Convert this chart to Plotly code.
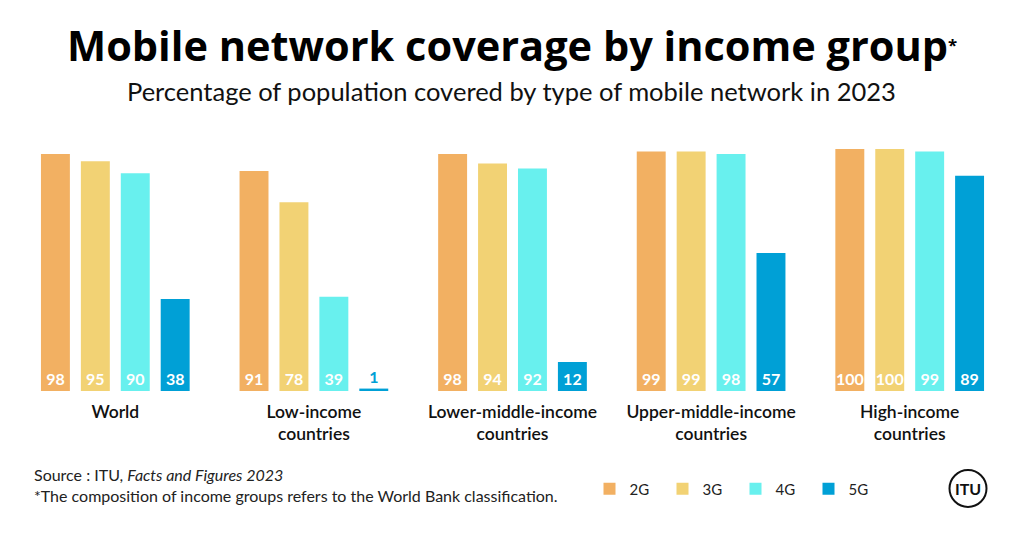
import plotly.graph_objects as go

groups = ["World", "Low-income<br>countries", "Lower-middle-income<br>countries",
          "Upper-middle-income<br>countries", "High-income<br>countries"]
series = ["2G", "3G", "4G", "5G"]
v2g = [98, 91, 98, 99, 100]
v3g = [95, 78, 94, 99, 100]
v4g = [90, 39, 92, 98, 99]
v5g = [38, 1, 12, 57, 89]
colors = ["#F2B062", "#F2D274", "#68F0EE", "#00A0D6"]

FONT = "Lato"
fig = go.Figure()
for name, vals, col in zip(series, [v2g, v3g, v4g, v5g], colors):
    pos = ["inside" if v >= 5 else "outside" for v in vals]
    fig.add_trace(go.Bar(
        x=groups, y=vals, name=name, marker=dict(color=col, line=dict(width=0)),
        text=[str(v) for v in vals], textposition=pos, insidetextanchor="start",
        textangle=0, cliponaxis=False,
        insidetextfont=dict(color="white", size=16, family=FONT, weight="bold"),
        outsidetextfont=dict(color=col, size=16, family=FONT, weight="bold"),
    ))

fig.update_layout(
    width=1024, height=536, paper_bgcolor="white", plot_bgcolor="white",
    margin=dict(l=16, r=15, t=130, b=145, autoexpand=False),
    barmode="group", bargap=0.196, bargroupgap=0.275,
    font=dict(family=FONT, color="#111111"),
    uniformtext=dict(minsize=16, mode="show"),
    xaxis=dict(showgrid=False, zeroline=False, showline=False, ticks="",
               tickfont=dict(size=17.5, family=FONT, color="#111111", weight=600),
               ticklabelstandoff=8),
    yaxis=dict(range=[0, 107.9], visible=False),
    legend=dict(orientation="h", x=(590 - 16.5) / 993, y=(391 - 489) / 261,
                xanchor="left", yanchor="middle",
                entrywidth=28, font=dict(size=15, family=FONT, color="#222222"),
                traceorder="normal"),
    showlegend=True,
)

fig.add_annotation(text="Mobile network coverage by income group<span style='font-size:24px'><sup>*</sup></span>",
                   xref="paper", yref="paper", x=(512 - 16.5) / 993, y=(391 - 45) / 261,
                   xanchor="center", yanchor="middle", showarrow=False,
                   font=dict(size=41.5, family="Open Sans", color="#000000", weight="bold"))
fig.add_annotation(text="Percentage of population covered by type of mobile network in 2023",
                   xref="paper", yref="paper", x=(512 - 16.5) / 993, y=(391 - 91) / 261,
                   xanchor="center", yanchor="middle", showarrow=False,
                   font=dict(size=25.5, family=FONT, color="#111111"))
fig.add_annotation(text="Source : ITU, <i>Facts and Figures 2023</i><br>*The composition of income groups refers to the World Bank classification.",
                   xref="paper", yref="paper", x=(32 - 16.5) / 993, y=(391 - 485) / 261,
                   xanchor="left", yanchor="middle",
                   align="left", showarrow=False,
                   font=dict(size=16, family=FONT, color="#222222"))
# ITU logo
fig.add_shape(type="circle", xref="paper", yref="paper",
              x0=(950 - 16.5) / 993, x1=(987 - 16.5) / 993,
              y0=(391 - 507) / 261, y1=(391 - 470) / 261,
              line=dict(color="#111111", width=2))
fig.add_annotation(text="<b>ITU</b>", xref="paper", yref="paper",
                   x=(968.5 - 16.5) / 993, y=(391 - 488) / 261,
                   xanchor="center", yanchor="middle", showarrow=False,
                   font=dict(size=16, family=FONT, color="#111111"))

fig.write_html("out.html")
